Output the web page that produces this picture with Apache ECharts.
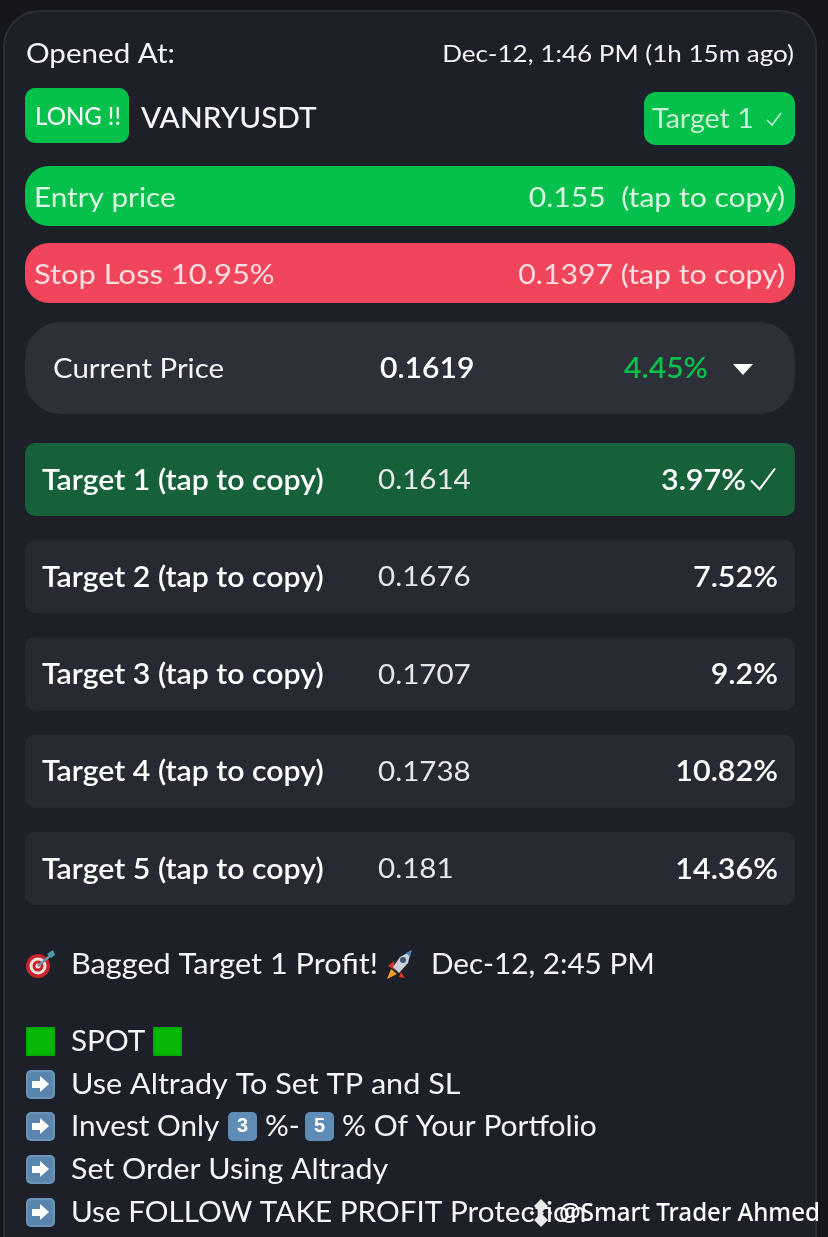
<!DOCTYPE html>
<html>
<head>
<meta charset="utf-8">
<title>VANRYUSDT signal</title>
<script src="https://cdn.jsdelivr.net/npm/echarts@6/dist/echarts.min.js"></script>
<style>
    html, body { margin: 0; padding: 0; background: #15171c; }
    #main { width: 828px; height: 1237px; }
</style>
</head>
<body>
<div id="main"></div>
<script>
// Values
const openedAt = 'Dec-12, 1:46 PM (1h 15m ago)';
const side = 'LONG !!';
const symbol = 'VANRYUSDT';
const statusLabel = 'Target 1';
const entryPrice = '0.155';
const stopLossPct = '10.95%';
const stopLossPrice = '0.1397';
const currentPrice = '0.1619';
const currentPct = '4.45%';
const targetNames = ['Target 1', 'Target 2', 'Target 3', 'Target 4', 'Target 5'];
const targetPrices = ['0.1614', '0.1676', '0.1707', '0.1738', '0.181'];
const targetPcts = ['3.97%', '7.52%', '9.2%', '10.82%', '14.36%'];
const bagged = 'Bagged Target 1 Profit!';
const baggedAt = 'Dec-12, 2:45 PM';
const watermark = '@Smart Trader Ahmed';

const WHITE = '#f4f5f6';
const GREEN = '#05c14b';
const RED = '#f0455a';
const FONT = 'Lato, sans-serif';
const STRETCH = 1.06;

let items = [];

const box = function (x, y, w, h, r, fill, stroke) {
    items.push({
        type: 'rect',
        shape: { x: x, y: y, width: w, height: h, r: r },
        style: { fill: fill, stroke: stroke || null, lineWidth: stroke ? 2 : 0 }
    });
};

const label = function (text, x, y, size, color, align, weight, family, stretch) {
    items.push({
        type: 'text',
        x: x,
        y: y + 1,
        scaleX: stretch || STRETCH,
        style: {
            text: text,
            fill: color || WHITE,
            font: (weight || 400) + ' ' + size + 'px ' + (family || FONT),
            align: align || 'left',
            verticalAlign: 'middle'
        }
    });
};

const poly = function (points, fill) {
    items.push({ type: 'polygon', shape: { points: points }, style: { fill: fill } });
};

const check = function (x, y, s, color, width) {
    items.push({
        type: 'polyline',
        shape: { points: [[x, y], [x + s * 0.36, y + s * 0.36], [x + s, y - s * 0.5]] },
        style: { stroke: color, lineWidth: width, fill: null }
    });
};

const circle = function (x, y, r, fill) {
    items.push({ type: 'circle', shape: { cx: x, cy: y, r: r }, style: { fill: fill } });
};

// the emoji font is not installed, so the emoji are drawn from shapes
const arrowEmoji = function (x, y) {
    box(x, y - 14, 29, 29, 5, '#6b93b8');
    box(x + 2, y - 12, 25, 25, 4, '#5a86ad');
    poly([[x + 6, y - 3], [x + 14, y - 3], [x + 14, y - 8], [x + 23, y], [x + 14, y + 8], [x + 14, y + 4], [x + 6, y + 4]], '#ffffff');
};

const keycapEmoji = function (x, y, digit) {
    box(x, y - 14, 29, 29, 5, '#5f8db5');
    label(digit, x + 14.5, y - 1, 20, '#ffffff', 'center', 900, 'Liberation Sans', 1);
};

const squareEmoji = function (x, y) {
    box(x, y - 14, 29, 29, 1, '#06a806');
    box(x + 2, y - 12, 25, 25, 0, '#04b804');
};

const dartEmoji = function (x, y) {
    circle(x + 12, y + 2, 12, '#c9242d');
    circle(x + 12, y + 2, 8.5, '#f2e4dc');
    circle(x + 12, y + 2, 5.5, '#c9242d');
    circle(x + 12, y + 2, 2.5, '#f2e4dc');
    items.push({
        type: 'line',
        shape: { x1: x + 12, y1: y + 2, x2: x + 25, y2: y - 9 },
        style: { stroke: '#5d9aa6', lineWidth: 2.5 }
    });
    poly([[x + 21, y - 10], [x + 27, y - 14], [x + 29, y - 9], [x + 25, y - 6]], '#4f9cab');
};

const rocketEmoji = function (x, y) {
    poly([[x + 1, y + 15], [x + 5, y + 5], [x + 11, y + 10]], '#f0a01e');
    poly([[x + 9, y + 6], [x + 2, y + 2], [x + 8, y - 3]], '#d9352b');
    poly([[x + 15, y + 8], [x + 19, y + 14], [x + 13, y + 13]], '#d9352b');
    poly([[x + 7, y + 3], [x + 14, y - 7], [x + 25, y - 13], [x + 22, y - 1], [x + 13, y + 9]], '#c9d0d8');
    circle(x + 17, y - 4, 3, '#39566e');
    poly([[x + 20, y - 11], [x + 26, y - 14], [x + 24, y - 7]], '#4b87b8');
};

const binanceMark = function (x, y) {
    const d = function (cx, cy, r) {
        poly([[cx, cy - r], [cx + r, cy], [cx, cy + r], [cx - r, cy]], '#e8e9ea');
    };
    d(x, y - 7, 7);
    d(x, y + 7, 7);
    d(x - 9, y, 2.5);
    d(x + 9, y, 2.5);
    d(x, y, 3);
};

// Card
box(4, 11, 812, 1300, 36, '#1e2029', '#2c2e38');

// Header
label('Opened At:', 26, 53, 27, WHITE, 'left', 400, FONT, 1.095);
label(openedAt, 794, 53, 24, WHITE, 'right', 400, FONT, 1.085);
box(25, 88, 104, 55, 10, GREEN);
label(side, 78, 116, 24, WHITE, 'center', 500, FONT, 1);
label(symbol, 141, 118, 29, WHITE, 'left', 500, FONT, 1.025);
box(644, 92, 151, 53, 12, GREEN);
label(statusLabel, 652, 118, 27, '#c7f0d5');
check(767, 120, 14, '#c7f0d5', 1.5);

// Entry and stop loss bars
box(25, 166, 770, 60, 24, GREEN);
label('Entry price', 34, 197, 27, '#d9f6e3', 'left', 400, FONT, 1.1);
label(entryPrice + '  (tap to copy)', 785, 197, 27, '#d9f6e3', 'right', 400, FONT, 1.115);
box(25, 243, 770, 60, 24, RED);
label('Stop Loss ' + stopLossPct, 34, 274, 27, '#fbdfe2', 'left', 400, FONT, 1.145);
label(stopLossPrice + ' (tap to copy)', 785, 274, 27, '#fbdfe2', 'right', 400, FONT, 1.118);

// Current price
box(25, 322, 770, 92, 36, '#2d2f39');
label('Current Price', 53, 368, 27, WHITE, 'left', 400, FONT, 1.09);
label(currentPrice, 380, 368, 28, '#ffffff', 'left', 600, FONT, 1.075);
label(currentPct, 708, 368, 28, GREEN, 'right', 600, FONT, 1.075);
poly([[733, 364], [753, 364], [743, 375]], '#ffffff');

// Targets
targetNames.forEach(function (name, i) {
    const top = 443 + i * 97.25;
    const mid = top + 36.5;
    box(25, top, 770, 73, 10, i === 0 ? '#17613a' : '#282a33');
    label(name + ' (tap to copy)', 42, mid, 28, '#ffffff', 'left', 600, FONT, 1.08);
    label(targetPrices[i], 378, mid, 27, '#e6e7e9', 'left', 400, FONT, 1.095);
    const right = i === 0 ? 746 : 778;
    label(targetPcts[i], right, mid, 28, '#ffffff', 'right', 600, FONT, 1.09);
    if (i === 0) {
        check(751, mid + 1, 24, '#ffffff', 2);
    }
});

// Notes
dartEmoji(26, 964);
label(bagged, 71, 964, 28, WHITE, 'left', 400, FONT, 1.095);
rocketEmoji(386, 964);
label(baggedAt, 431, 964, 28, WHITE, 'left', 400, FONT, 1.06);

squareEmoji(26, 1041);
label('SPOT', 71, 1041, 28);
squareEmoji(153, 1041);

arrowEmoji(26, 1084);
label('Use Altrady To Set TP and SL', 71, 1084, 28, WHITE, 'left', 400, FONT, 1.093);

arrowEmoji(26, 1126);
label('Invest Only', 71, 1126, 28);
keycapEmoji(228, 1126, '3');
label('%-', 265, 1126, 28);
keycapEmoji(305, 1126, '5');
label('% Of Your Portfolio', 342, 1126, 28, WHITE, 'left', 400, FONT, 1.07);

arrowEmoji(26, 1169);
label('Set Order Using Altrady', 71, 1169, 28, WHITE, 'left', 400, FONT, 1.085);

arrowEmoji(26, 1212);
label('Use FOLLOW TAKE PROFIT Protection', 71, 1212, 28);

// Watermark
binanceMark(541, 1213);
label(watermark, 820, 1213, 25, '#ffffff', 'right', 500, '"Noto Sans", sans-serif', 0.965);

const chart = echarts.init(document.getElementById('main'));
chart.setOption({
    backgroundColor: '#15171c',
    animation: false,
    graphic: { elements: items }
});
</script>
</body>
</html>
